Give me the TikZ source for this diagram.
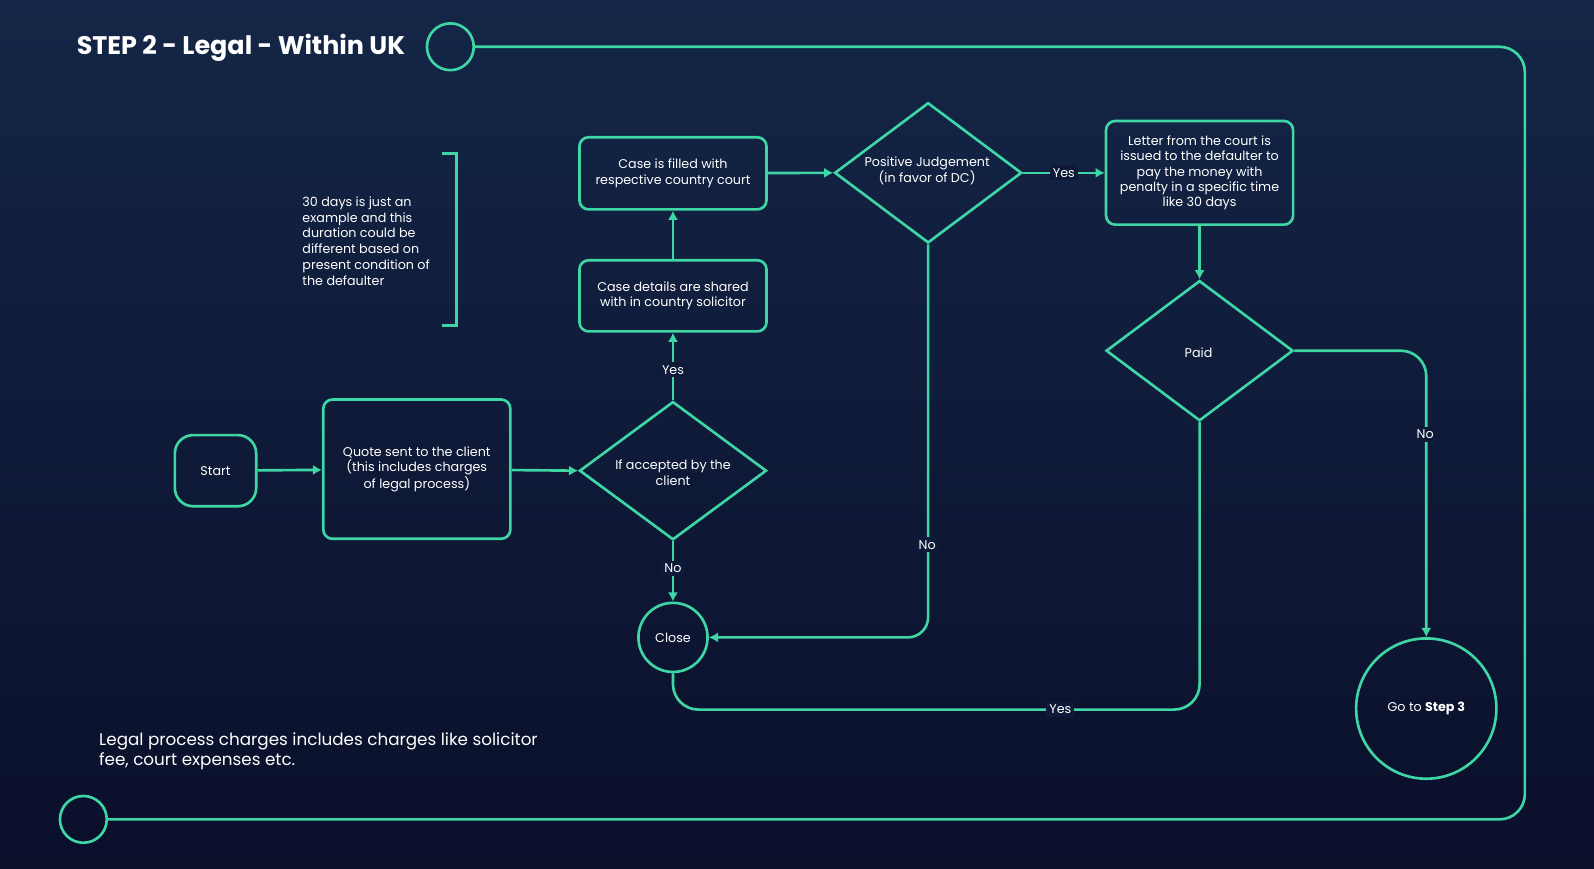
\documentclass[tikz,border=0pt]{standalone}
\usepackage{fontspec}
\setmainfont{Poppins}
\usetikzlibrary{arrows.meta,shapes.geometric}
\definecolor{ln}{HTML}{3FD6A6}
\definecolor{bgtop}{HTML}{142647}
\definecolor{bgbot}{HTML}{0A0F2A}
\definecolor{bgmid}{HTML}{0F1A38}
\begin{document}
\begin{tikzpicture}[x=1pt,y=-1pt,
  every node/.style={text=white,font=\fontsize{12.5}{15}\selectfont},
  ln/.style={draw=ln,line width=2.6pt},
  arr/.style={ln,-{Latex[length=9pt,width=10pt]}},
  box/.style={ln,rounded corners=9pt,align=center,inner sep=0pt},
  lab/.style={fill=bgmid,inner sep=3pt}]
\shade[top color=bgtop,bottom color=bgbot] (0,0) rectangle (1568,854);
\useasboundingbox (0,0) rectangle (1568,854);
\node[anchor=west,font=\fontsize{25}{30}\selectfont\bfseries] (title) at (72,47) {STEP 2 - Legal - Within UK};
\node[ln,circle,minimum size=46pt] (c1) at (443,46) {};
\node[ln,circle,minimum size=46pt] (c2) at (82,806) {};
\draw[ln,rounded corners=25pt] (c1.east) -- (1500,46) -- (1500,806) -- (c2.east);
\draw[ln] (435,151) -- (449,151) -- (449,320) -- (435,320);
\node[anchor=north west,align=left,font=\fontsize{12.5}{15.5}\selectfont] (note) at (294,190) {30 days is just an\\example and this\\duration could be\\different based on\\present condition of\\the defaulter};
\node[anchor=north west,align=left,font=\fontsize{16.5}{20}\selectfont] (foot) at (94,717) {Legal process charges includes charges like solicitor\\fee, court expenses etc.};
\node[box,minimum width=80pt,minimum height=70pt,rounded corners=18pt] (start) at (212,463) {Start};
\node[box,minimum width=184pt,minimum height=137pt] (quote) at (410,461.5) {Quote sent to the client\\(this includes charges\\of legal process)};
\node[ln,minimum width=184pt,minimum height=136pt,diamond,aspect=1.35,inner sep=0pt] (acc) at (662,463) {};
\node[align=center] at (662,465) {If accepted by the\\client};
\node[ln,circle,minimum size=68pt] (close) at (662,627) {Close};
\node[box,minimum width=184pt,minimum height=70pt] (det) at (662,291) {Case details are shared\\with in country solicitor};
\node[box,minimum width=184pt,minimum height=71pt] (fil) at (662,170.5) {Case is filled with\\respective country court};
\node[ln,minimum width=184pt,minimum height=138pt,diamond,aspect=1.33,inner sep=0pt] (pos) at (913,170) {};
\node[align=center] at (912,168) {Positive Judgement\\(in favor of DC)};
\node[box,minimum width=184pt,minimum height=102pt] (let) at (1180,170) {Letter from the court is\\issued to the defaulter to\\pay the money with\\penalty in a specific time\\like 30 days};
\node[ln,minimum width=184pt,minimum height=138pt,diamond,aspect=1.33,inner sep=0pt] (paid) at (1180,345) {};
\node at (1179,347) {Paid};
\node[ln,circle,minimum size=138pt] (s3) at (1403,697) {Go to \textbf{Step 3}};
\draw[arr] (start) -- (quote);
\draw[arr] (quote) -- (acc.west);
\draw[arr] (acc.north) -- node[lab,pos=0.45]{Yes} (det);
\draw[arr] (det) -- (fil);
\draw[arr] (fil) -- (pos.west);
\draw[arr] (pos.east) -- node[lab,pos=0.5]{Yes} (let);
\draw[arr] (acc.south) -- node[lab,pos=0.45]{No} (close);
\draw[arr,rounded corners=20pt] (pos.south) -- (913,627) -- (close.east);
\node[lab] at (912,536) {No};
\draw[arr] (let) -- (paid.north);
\draw[arr,rounded corners=25pt] (paid.east) -- (1403,345) -- (s3.north);
\node[lab] at (1402,427) {No};
\draw[ln,rounded corners=25pt] (paid.south) -- (1180,698) -- (662,698) -- (close.south);
\node[lab] at (1043,698) {Yes};
\end{tikzpicture}
\end{document}
